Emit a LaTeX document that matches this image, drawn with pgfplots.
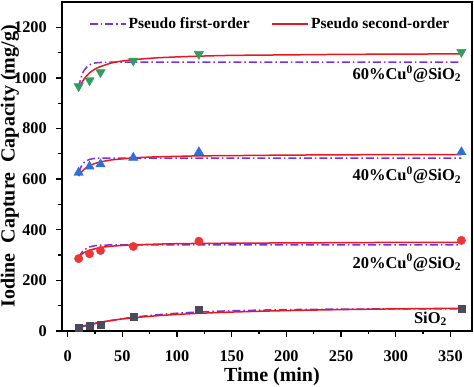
\documentclass[border=0pt]{standalone}
\usepackage{fontspec}
\setmainfont{Liberation Serif}
\usepackage{pgfplots}
\pgfplotsset{compat=1.18}
\definecolor{pfo}{HTML}{7B2FE0}
\definecolor{pso}{HTML}{E8181E}
\definecolor{cgreen}{HTML}{2E9E5E}
\definecolor{cblue}{HTML}{2F6FD6}
\definecolor{cred}{HTML}{EE3535}
\definecolor{cgray}{HTML}{4A4A5C}
\begin{document}
\begin{tikzpicture}
\begin{axis}[
  scale only axis, width=410pt, height=329pt,
  xmin=-5.2, xmax=369.7, ymin=0, ymax=1300,
  axis line style={line width=1.8pt},
  xtick={0,50,...,350}, ytick={0,200,...,1200},
  minor x tick num=1, minor y tick num=1,
  tick pos=left, tick align=outside,
  major tick length=6pt, minor tick length=3.5pt,
  every tick/.style={black, line width=1.3pt},
  /pgf/number format/assume math mode=true,
  /pgf/number format/set thousands separator={},
  xticklabel={\bfseries\pgfmathprintnumber{\tick}},
  yticklabel={\bfseries\pgfmathprintnumber{\tick}},
  ticklabel style={font=\fontsize{16.3}{18}\selectfont\bfseries, inner sep=0pt},
  xticklabel style={anchor=north, yshift=-13.5pt},
  yticklabel style={anchor=east, xshift=-9pt},
  xlabel={Time (min)}, ylabel={Iodine\ \ Capture\ \ Capacity (mg/g)},
  label style={font=\fontsize{20}{22}\selectfont\bfseries},
  xlabel style={at={(axis description cs:0.512,-0.153)}, anchor=base},
  ylabel style={at={(axis description cs:-0.1268,0.5)}, anchor=center},
  legend columns=2,
  legend style={draw=none, fill=none, at={(axis description cs:0.508,0.933)}, anchor=center,
    font=\fontsize{15.5}{17}\selectfont\bfseries, /tikz/every even column/.append style={column sep=20pt}},
  legend image code/.code={\draw[#1] (0pt,0pt) -- (36pt,0pt);},
]
% legend entries
\addlegendimage{color=pfo, line width=1.5pt, dash pattern=on 8pt off 3pt on 1.5pt off 3pt}
\addlegendentry{Pseudo first-order}
\addlegendimage{color=pso, line width=1.5pt}
\addlegendentry{Pseudo second-order}

% ---- SiO2 ----
\addplot[color=pfo, line width=1.5pt, dash pattern=on 8pt off 3pt on 1.5pt off 3pt, smooth] coordinates {
(10,13.0)(15,18.8)(20,24.1)(30,33.5)(40,41.6)(50,48.5)(60,54.3)(80,63.5)(100,70.2)(120,75.1)(150,80.0)(200,84.4)(250,86.4)(300,87.3)(360,87.7)};
\addplot[color=pso, line width=1.5pt, smooth] coordinates {
(10,14.9)(15,20.8)(20,26.1)(30,34.8)(40,41.7)(50,47.5)(60,52.2)(80,59.7)(100,65.4)(120,69.8)(150,74.8)(200,80.6)(250,84.5)(300,87.4)(360,89.9)};
\addplot[only marks, mark=square*, mark size=3.4pt, cgray] coordinates {
(10,13)(20,21)(30,25)(60,56)(120,85)(360,88)};

% ---- 20% ----
\addplot[color=pfo, line width=1.5pt, dash pattern=on 8pt off 3pt on 1.5pt off 3pt, smooth] coordinates {
(10,289)(12,305)(15,320)(20,332)(25,337)(30,339)(40,340)(60,340)(120,340)(200,340)(360,340)};
\addplot[color=pso, line width=1.5pt, smooth] coordinates {
(10,292)(12,301)(15,310)(20,319)(25,325)(30,330)(40,335)(50,338)(60,340)(80,343)(100,345)(120,346)(150,347)(200,348)(250,349)(300,350)(360,350)};
\addplot[only marks, mark=*, mark size=4.2pt, cred] coordinates {
(10,286)(20,305)(30,318)(60,334)(120,355)(360,358)};

% ---- 40% ----
\addplot[color=pfo, line width=1.5pt, dash pattern=on 8pt off 3pt on 1.5pt off 3pt, smooth] coordinates {
(10,625)(12,647)(15,666)(20,678)(25,682)(30,683)(40,683)(60,683)(120,683)(200,683)(360,683)};
\addplot[color=pso, line width=1.5pt, smooth] coordinates {
(10,612)(12,625)(15,639)(20,653)(25,662)(30,668)(40,676)(50,680)(60,684)(80,688)(100,690)(120,692)(150,693)(200,695)(250,696)(300,697)(360,697)};
\addplot[only marks, mark=triangle*, mark size=5.4pt, cblue] coordinates {
(10,626)(20,650)(30,659)(60,685)(120,707)(360,707)};

% ---- 60% ----
\addplot[color=pfo, line width=1.5pt, dash pattern=on 8pt off 3pt on 1.5pt off 3pt, smooth] coordinates {
(10,960)(12,998)(15,1030)(20,1052)(25,1059)(30,1061)(40,1062)(60,1062)(120,1062)(200,1062)(360,1062)};
\addplot[color=pso, line width=1.5pt, smooth] coordinates {
(10,951)(12,973)(15,996)(20,1020)(25,1035)(30,1045)(40,1059)(50,1067)(60,1072)(80,1079)(100,1083)(120,1086)(150,1089)(200,1091)(250,1093)(300,1094)(360,1095)};
\addplot[only marks, mark=triangle*, mark size=5.4pt, cgreen, mark options={rotate=180}] coordinates {
(10,967)(20,990)(30,1022)(60,1068)(120,1094)(360,1102)};

% labels
\node[anchor=east, font=\fontsize{16.5}{19}\selectfont\bfseries] at (axis cs:363,1016) {60\%Cu\textsuperscript{0}@SiO\textsubscript{2}};
\node[anchor=east, font=\fontsize{16.5}{19}\selectfont\bfseries] at (axis cs:363,615) {40\%Cu\textsuperscript{0}@SiO\textsubscript{2}};
\node[anchor=east, font=\fontsize{16.5}{19}\selectfont\bfseries] at (axis cs:363,270) {20\%Cu\textsuperscript{0}@SiO\textsubscript{2}};
\node[anchor=east, font=\fontsize{16.5}{19}\selectfont\bfseries] at (axis cs:350,49) {SiO\textsubscript{2}};
\end{axis}
\pgfresetboundingbox
\path[use as bounding box] ([xshift=-62pt,yshift=-56pt]current axis.south west) rectangle ([xshift=2pt,yshift=2pt]current axis.north east);
\end{tikzpicture}
\end{document}
